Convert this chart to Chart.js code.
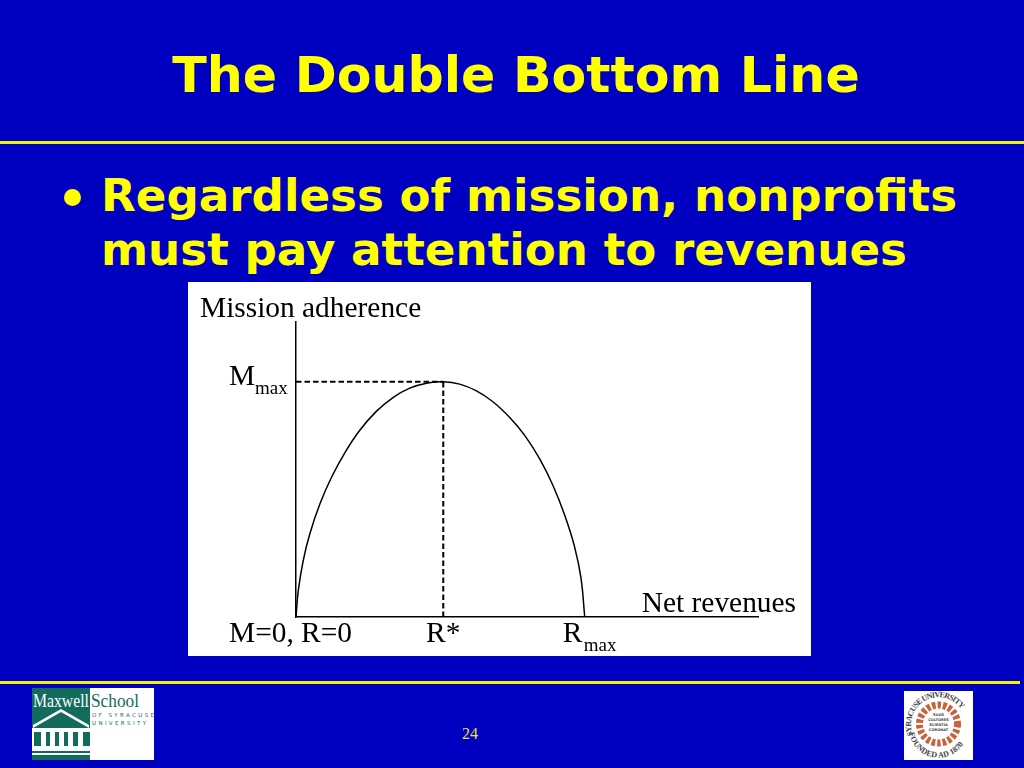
<!DOCTYPE html>
<html>
<head>
<meta charset="utf-8">
<title>The Double Bottom Line</title>
<script src="https://cdn.jsdelivr.net/npm/chart.js@4"></script>
<style>
  html, body { margin: 0; padding: 0; }
  body { width: 1024px; height: 768px; background: #0000c0; position: relative; overflow: hidden; font-family: "DejaVu Sans", sans-serif; color: #ffff00; }
  #title { position: absolute; left: 4px; width: 1024px; top: 45px; text-align: center; font-size: 50.6px; font-weight: bold; line-height: 60px; white-space: nowrap; }
  .rule { position: absolute; left: 0; height: 3px; background: #f2ee10; }
  #dot { position: absolute; left: 64px; top: 189px; width: 17px; height: 17px; border-radius: 50%; background: #ffff00; }
  .line { position: absolute; left: 101px; font-size: 45.2px; font-weight: bold; line-height: 54px; white-space: nowrap; }
  #panel { position: absolute; left: 188px; top: 282px; width: 623px; height: 374px; background: #fff; }
  #page { position: absolute; left: 462px; top: 725px; font: 16px "Liberation Serif", serif; color: #e4e450; }
  #maxwell, #seal { position: absolute; }
</style>
</head>
<body>
<div id="title">The Double Bottom Line</div>
<div class="rule" style="top:141px;width:1024px"></div>
<div id="dot"></div>
<div class="line" style="top:169px;">Regardless of mission, nonprofits</div>
<div class="line" style="top:223px;">must pay attention to revenues</div>
<div id="panel"><canvas id="chart" width="623" height="374"></canvas></div>
<div class="rule" style="top:681px;width:1020px"></div>

<svg id="maxwell" style="left:32px;top:688px" width="122" height="72" viewBox="0 0 122 72">
  <rect width="122" height="72" fill="#fff"/>
  <rect width="58" height="72" fill="#136b5e"/>
  <text x="1" y="19" font-family="Liberation Serif" font-size="19" fill="#fff" textLength="56" lengthAdjust="spacingAndGlyphs">Maxwell</text>
  <text x="59" y="19" font-family="Liberation Serif" font-size="19" fill="#136b5e" textLength="48" lengthAdjust="spacingAndGlyphs">School</text>
  <text x="60" y="29" font-family="DejaVu Sans" font-size="5.5" fill="#136b5e" textLength="62">OF SYRACUSE</text>
  <text x="60" y="37" font-family="DejaVu Sans" font-size="5.5" fill="#136b5e" textLength="54">UNIVERSITY</text>
  <path d="M1 40 L29 24 L57 40 L57 37 L29 21 L1 37 Z" fill="#fff"/>
  <path d="M13 37 L29 28 L45 37 Z" fill="#136b5e"/>
  <rect x="0" y="40" width="58" height="4" fill="#fff"/>
  <g fill="#fff">
    <rect x="0" y="44" width="2" height="14"/><rect x="9" y="44" width="5" height="14"/><rect x="18" y="44" width="5" height="14"/><rect x="27" y="44" width="5" height="14"/><rect x="36" y="44" width="5" height="14"/><rect x="46" y="44" width="5" height="14"/>
    <rect x="0" y="58" width="58" height="5"/><rect x="0" y="65" width="58" height="2"/>
  </g>
</svg>

<svg id="seal" style="left:904px;top:691px" width="69" height="69" viewBox="0 0 69 69">
  <rect width="69" height="69" fill="#fff"/>
  <defs>
    <path id="topArc" d="M9 44 A27.5 27.5 0 1 1 60 44"/>
    <path id="botArc" d="M5 42 A30 30 0 0 0 64 42"/>
  </defs>
  <text font-family="Liberation Serif" font-size="8" font-weight="bold" fill="#444" textLength="80"><textPath href="#topArc">SYRACUSE UNIVERSITY</textPath></text>
  <text font-family="Liberation Serif" font-size="8" font-weight="bold" fill="#444"><textPath href="#botArc">FOUNDED AD 1870</textPath></text>
  <circle cx="34.5" cy="33" r="19" fill="none" stroke="#c8623c" stroke-width="7" stroke-dasharray="3.5 2"/>
  <text x="34.5" y="25" font-family="DejaVu Sans" font-size="3.6" font-weight="bold" text-anchor="middle" fill="#444">SUOS</text>
  <text x="34.5" y="30" font-family="DejaVu Sans" font-size="3.6" font-weight="bold" text-anchor="middle" fill="#444">CULTORES</text>
  <text x="34.5" y="35" font-family="DejaVu Sans" font-size="3.6" font-weight="bold" text-anchor="middle" fill="#444">SCIENTIA</text>
  <text x="34.5" y="40" font-family="DejaVu Sans" font-size="3.6" font-weight="bold" text-anchor="middle" fill="#444">CORONAT</text>
</svg>

<div id="page">24</div>

<script>
// curve, both axes as % of Rmax / Mmax
const revenues = [0, 0.8, 2.5, 4.8, 8.3, 12.3, 17, 22.1, 27.9, 33.7, 39.4, 45.2, 51, 56.7, 62.5, 68.3, 74.1, 79.2, 84.4, 89, 93.1, 96.5, 98.7, 100];
const mission = [0, 11.3, 24, 35.4, 48.1, 59.4, 70, 79.4, 87.5, 93.4, 97.3, 99.4, 100, 99, 96.1, 91.4, 84.7, 77.2, 67.2, 55.9, 43.1, 29.7, 16.5, 0];

const rStar = 51;
const rMax = 100;
const mMax = 100;
const xAxisEnd = 160;
const yAxisEnd = 125.4;

const yAxisTitle = "Mission adherence";
const xAxisTitle = "Net revenues";
const originLabel = "M=0, R=0";
const rStarLabel = "R*";

const SERIF = '"Liberation Serif", serif';

function curve() {
  return revenues.map((r, i) => ({ x: r, y: mission[i] }));
}

function dashed(points) {
  return {
    data: points,
    borderColor: "#000",
    borderWidth: 2,
    borderDash: [5.5, 3],
    pointRadius: 0
  };
}

/* ========= TEXT ON THE AXES ========= */

const axisLabels = {
  id: "axisLabels",
  afterDraw(chart) {
    const { ctx, scales } = chart;
    const x0 = scales.x.getPixelForValue(0);
    const y0 = scales.y.getPixelForValue(0);
    const yM = scales.y.getPixelForValue(mMax);
    const xStar = scales.x.getPixelForValue(rStar);
    const xMax = scales.x.getPixelForValue(rMax);

    function put(text, x, y, size, align) {
      ctx.font = `${size}px ${SERIF}`;
      ctx.textAlign = align || "left";
      ctx.textBaseline = "alphabetic";
      ctx.fillStyle = "#000";
      ctx.fillText(text, x, y);
    }

    ctx.save();
    put(yAxisTitle, 12, 35, 29.4);
    put("M", x0 - 67, yM + 3, 29.4);
    put("max", x0 - 41, yM + 12, 19);
    put(xAxisTitle, 608, y0 - 5, 29.4, "right");
    put(originLabel, x0 - 67, y0 + 25, 29.4);
    put(rStarLabel, xStar, y0 + 25, 29.4, "center");
    put("R", xMax - 22, y0 + 25, 29.4);
    put("max", xMax - 1, y0 + 34, 19);
    ctx.restore();
  }
};

new Chart(document.getElementById("chart"), {
  type: "line",
  data: {
    datasets: [
      { data: curve(), borderColor: "#000", borderWidth: 1.5, pointRadius: 0, tension: 0.4 },
      dashed([{ x: 0, y: mMax }, { x: rStar, y: mMax }]),
      dashed([{ x: rStar, y: 0 }, { x: rStar, y: mMax }])
    ]
  },
  options: {
    responsive: false,
    animation: false,
    layout: { padding: { left: 100, top: 40, right: 53, bottom: 31 } },
    plugins: { legend: { display: false }, tooltip: { enabled: false } },
    scales: {
      x: {
        type: "linear",
        min: 0,
        max: xAxisEnd,
        grid: { display: false },
        ticks: { display: false },
        border: { color: "#000", width: 1.5 }
      },
      y: {
        type: "linear",
        min: 0,
        max: yAxisEnd,
        grid: { display: false },
        ticks: { display: false },
        border: { color: "#000", width: 1.5 }
      }
    }
  },
  plugins: [axisLabels]
});
</script>
</body>
</html>
